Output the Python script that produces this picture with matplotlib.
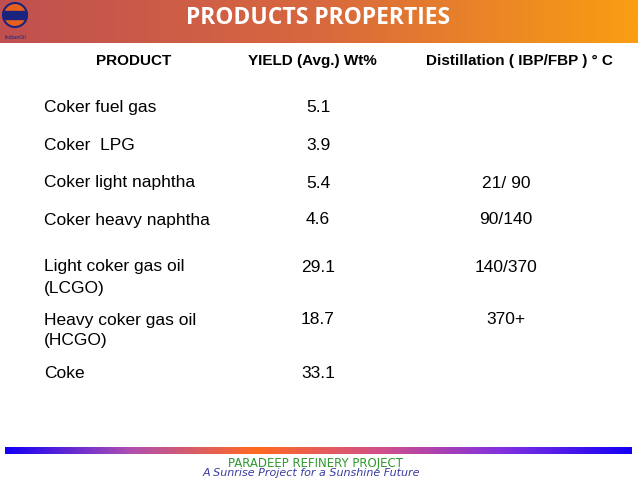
import matplotlib
matplotlib.use("Agg")
import matplotlib.pyplot as plt
import numpy as np
from matplotlib.colors import LinearSegmentedColormap

title = "PRODUCTS PROPERTIES"
headers = ["PRODUCT", "YIELD (Avg.) Wt%", "Distillation ( IBP/FBP ) ° C"]
products = ["Coker fuel gas", "Coker  LPG", "Coker light naphtha", "Coker heavy naphtha",
            "Light coker gas oil\n(LCGO)", "Heavy coker gas oil\n(HCGO)", "Coke"]
yields = ["5.1", "3.9", "5.4", "4.6", "29.1", "18.7", "33.1"]
distill = ["", "", "21/ 90", "90/140", "140/370", "370+", ""]
row_y = [107, 145, 183, 220, 267, 320, 374]

fig = plt.figure(figsize=(6.38, 4.78), dpi=100)
ax = fig.add_axes([0, 0, 1, 1])
ax.set_xlim(0, 638); ax.set_ylim(478, 0); ax.axis("off")

hc = LinearSegmentedColormap.from_list("h", ["#bf5050", "#d8683e", "#fa9e12"])
ax.imshow(np.linspace(0, 1, 256)[None, :], cmap=hc, extent=[0, 638, 43, 0], aspect="auto")
ax.text(318, 18, title, color="white", fontsize=16.5, fontweight="bold", ha="center", va="center",
        family="Open Sans")
ax.add_patch(plt.Circle((15, 15), 12, color="#e8601c", ec="#1a237e", lw=1.5))
ax.add_patch(plt.Rectangle((4, 11), 22, 8, color="#1a237e"))
ax.text(15, 37, "IndianOil", fontsize=3.5, ha="center", va="center", color="#1a237e")

fs = 11
for x, h in zip([134, 312, 519], headers):
    ax.text(x, 61, h, fontsize=fs, fontweight="bold", ha="center", va="center", family="Liberation Sans")

for p, yv, d, y in zip(products, yields, distill, row_y):
    for i, line in enumerate(p.split("\n")):
        ax.text(44, y + 21 * i, line, fontsize=12.5, ha="left", va="center", family="Liberation Sans")
    ax.text(318, y, yv, fontsize=12.5, ha="center", va="center", family="Liberation Sans")
    if d:
        ax.text(506, y, d, fontsize=12.5, ha="center", va="center", family="Liberation Sans")

bc = LinearSegmentedColormap.from_list("b", ["#1400f5", "#b050b0", "#ff6a20", "#d0508a", "#8030e0", "#1400f5"])
ax.imshow(np.linspace(0, 1, 256)[None, :], cmap=bc, extent=[5, 632, 454, 447], aspect="auto")
ax.text(316, 463, "PARADEEP REFINERY PROJECT", fontsize=8.5, color="#2e9a2e", ha="center", va="center")
ax.text(311, 473, "A Sunrise Project for a Sunshine Future", fontsize=8, color="#3a3aa0", style="italic",
        ha="center", va="center")

fig.savefig("out.png", dpi=100)
